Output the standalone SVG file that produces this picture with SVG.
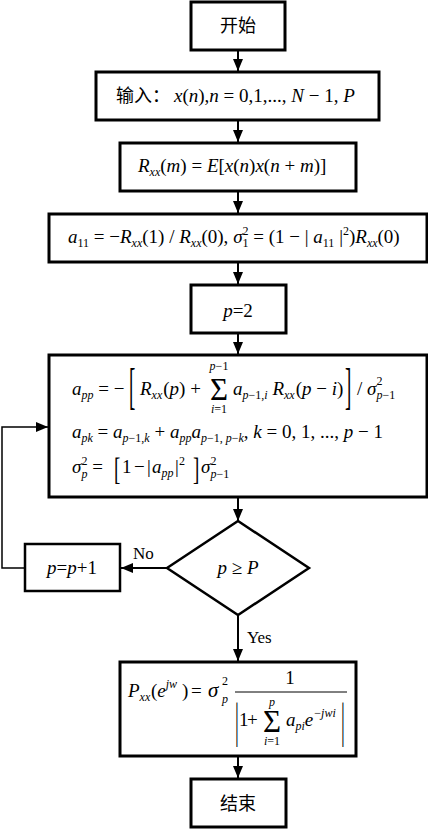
<svg xmlns="http://www.w3.org/2000/svg" width="428" height="829" viewBox="0 0 428 829">
<style>
.box{fill:#fff;stroke:#000;stroke-width:3}
.box2{fill:#fff;stroke:#000;stroke-width:2.5}
.conn{stroke:#000;stroke-width:2;fill:none}
.loop{stroke:#000;stroke-width:1.5;fill:none}
.cjk{font-family:"Noto Sans CJK SC",sans-serif;font-size:18px;fill:#000}
.m{font-family:"Liberation Serif",serif;font-size:19px;fill:#000}
.i{font-style:italic}
.s{font-size:12px}
.big{font-family:"Liberation Serif",serif;font-size:31px;fill:#000}
.lbl{font-family:"Liberation Serif",serif;font-size:17px;fill:#000}
</style>
<defs>
<marker id="ah" viewBox="0 0 12 10" refX="12" refY="5" markerWidth="12" markerHeight="10" markerUnits="userSpaceOnUse" orient="auto">
<path d="M0,0 L12,5 L0,10 z" fill="#000"/>
</marker>
</defs>
<g id="connectors">
<line class="conn" x1="238" y1="50" x2="238" y2="71" marker-end="url(#ah)"/>
<line class="conn" x1="238" y1="120" x2="238" y2="142" marker-end="url(#ah)"/>
<line class="conn" x1="238" y1="191" x2="238" y2="213" marker-end="url(#ah)"/>
<line class="conn" x1="238" y1="262" x2="238" y2="284" marker-end="url(#ah)"/>
<line class="conn" x1="238" y1="333" x2="238" y2="354" marker-end="url(#ah)"/>
<line class="conn" x1="238" y1="497" x2="238" y2="521" marker-end="url(#ah)"/>
<line class="conn" x1="167" y1="568" x2="121" y2="568" marker-end="url(#ah)"/>
<line class="conn" x1="238" y1="615" x2="238" y2="661" marker-end="url(#ah)"/>
<line class="conn" x1="238" y1="756" x2="238" y2="778" marker-end="url(#ah)"/>
<polyline class="loop" points="25,568 2,568 2,427 48,427" marker-end="url(#ah)"/>
<text class="lbl" x="133" y="559">No</text>
<text class="lbl" x="247" y="643">Yes</text>
</g>
<g id="start">
<rect class="box" x="191" y="2" width="94" height="48"/>
<text class="cjk" x="238" y="32" text-anchor="middle">开始</text>
</g>
<g id="input">
<rect class="box" x="96" y="72" width="283" height="48"/>
<text class="cjk" x="116" y="102">输入：</text>
<text class="m" x="174" y="102"><tspan class="i">x</tspan>(<tspan class="i">n</tspan>),<tspan class="i">n</tspan> = 0,1,..., <tspan class="i">N</tspan> − 1, <tspan class="i">P</tspan></text>
</g>
<g id="autocorr">
<rect class="box" x="120" y="143" width="236" height="48"/>
<text class="m" x="138" y="172"><tspan class="i">R</tspan><tspan class="s i" dy="4">xx</tspan><tspan dy="-4">(</tspan><tspan class="i">m</tspan>) = <tspan class="i">E</tspan>[<tspan class="i">x</tspan>(<tspan class="i">n</tspan>)<tspan class="i">x</tspan>(<tspan class="i">n</tspan> + <tspan class="i">m</tspan>)]</text>
</g>
<g id="init">
<rect class="box" x="49" y="214" width="378" height="48"/>
<text class="m" x="68" y="243"><tspan class="i">a</tspan><tspan class="s" dy="4">11</tspan><tspan dy="-4"> = −</tspan><tspan class="i">R</tspan><tspan class="s i" dy="4">xx</tspan><tspan dy="-4">(1) / </tspan><tspan class="i">R</tspan><tspan class="s i" dy="4">xx</tspan><tspan dy="-4">(0), </tspan><tspan class="i">σ</tspan><tspan class="s" dy="-8">2</tspan><tspan class="s" dx="-6" dy="12">1</tspan><tspan dy="-4"> = (1 − | </tspan><tspan class="i">a</tspan><tspan class="s" dy="4">11</tspan><tspan dy="-4"> |</tspan><tspan class="s" dy="-8">2</tspan><tspan dy="8">)</tspan><tspan class="i">R</tspan><tspan class="s i" dy="4">xx</tspan><tspan dy="-4">(0)</tspan></text>
</g>
<g id="p2">
<rect class="box" x="191" y="285" width="95" height="48"/>
<text class="m" x="238" y="317" text-anchor="middle"><tspan class="i">p</tspan>=2</text>
</g>
<g id="recursion">
<rect class="box" x="49" y="355" width="378" height="142"/>
<text class="m" x="72" y="395"><tspan class="i">a</tspan><tspan class="s i" dy="4">pp</tspan><tspan dy="-4"> = −</tspan></text>
<text class="m" transform="translate(129,403) scale(1,2.65)" font-size="24">[</text>
<text class="m" x="140" y="395"><tspan class="i">R</tspan><tspan class="s i" dy="4">xx</tspan><tspan dy="-4" dx="1">(</tspan><tspan class="i">p</tspan>) +</text>
<text class="big" x="210" y="400">Σ</text>
<text class="m s" x="219" y="370" text-anchor="middle"><tspan class="i">p</tspan>−1</text>
<text class="m s" x="219" y="413" text-anchor="middle"><tspan class="i">i</tspan>=1</text>
<text class="m" x="233" y="395"><tspan class="i">a</tspan><tspan class="s" dy="4"><tspan class="i">p</tspan>−1,<tspan class="i">i</tspan></tspan><tspan dy="-4"> </tspan><tspan class="i">R</tspan><tspan class="s i" dy="4">xx</tspan><tspan dy="-4" dx="1">(</tspan><tspan class="i">p</tspan> − <tspan class="i">i</tspan>)</text>
<text class="m" transform="translate(345,403) scale(1,2.65)" font-size="24">]</text>
<text class="m" x="357" y="395">/ <tspan class="i">σ</tspan><tspan class="s" dy="-10">2</tspan><tspan class="s" dx="-6" dy="14"><tspan class="i">p</tspan>−1</tspan></text>
<text class="m" x="72" y="438"><tspan class="i">a</tspan><tspan class="s i" dy="4">pk</tspan><tspan dy="-4"> = </tspan><tspan class="i">a</tspan><tspan class="s" dy="4"><tspan class="i">p</tspan>−1,<tspan class="i">k</tspan></tspan><tspan dy="-4"> + </tspan><tspan class="i">a</tspan><tspan class="s i" dy="4">pp</tspan><tspan class="i" dy="-4">a</tspan><tspan class="s" dy="4"><tspan class="i">p</tspan>−1, <tspan class="i">p</tspan>−<tspan class="i">k</tspan></tspan><tspan dy="-4">, </tspan><tspan class="i">k</tspan> = 0, 1, ..., <tspan class="i">p</tspan> − 1</text>
<text class="m" x="72" y="473"><tspan class="i">σ</tspan><tspan class="s" dy="-8">2</tspan><tspan class="s i" dx="-6" dy="13">p</tspan><tspan dy="-5"> =</tspan></text>
<text class="m" transform="translate(114,480) scale(1,1.65)" font-size="20">[</text>
<text class="m" x="122" y="473">1<tspan x="134">−</tspan><tspan x="147">|</tspan><tspan class="i" x="152">a</tspan><tspan class="s i" dy="4">pp</tspan><tspan dy="-4" x="175">|</tspan><tspan class="s" dy="-8" x="179">2</tspan></text>
<text class="m" transform="translate(193,480) scale(1,1.65)" font-size="20">]</text>
<text class="m" x="201" y="473"><tspan class="i">σ</tspan><tspan class="s" dy="-8">2</tspan><tspan class="s" dx="-6" dy="13"><tspan class="i">p</tspan>−1</tspan></text>
</g>
<g id="decision">
<polygon class="box2" points="167,568 238,521 309,568 238,615"/>
<text class="m" x="238" y="574" text-anchor="middle"><tspan class="i">p</tspan> ≥ <tspan class="i">P</tspan></text>
</g>
<g id="increment">
<rect class="box2" x="25" y="544" width="95" height="47"/>
<text class="m" x="72" y="574" text-anchor="middle"><tspan class="i">p</tspan>=<tspan class="i">p</tspan>+1</text>
</g>
<g id="psd">
<rect class="box" x="120" y="662" width="236" height="94"/>
<text class="m" x="128" y="697"><tspan class="i">P</tspan><tspan class="s i" dy="4">xx</tspan><tspan dy="-4" x="151">(</tspan><tspan class="i">e</tspan><tspan class="s i" dy="-9">jw</tspan><tspan dy="9" x="182">)</tspan><tspan x="191">=</tspan><tspan class="i" x="208" font-size="21">σ</tspan><tspan class="s" dy="-12" x="222">2</tspan><tspan class="s i" x="222" dy="18">p</tspan></text>
<line x1="235" y1="692" x2="347" y2="692" stroke="#000" stroke-width="1"/>
<text class="m" x="290" y="684" text-anchor="middle">1</text>
<text class="m" transform="translate(235,737) scale(1,2.6)" font-size="20">|</text>
<text class="m" transform="translate(341,737) scale(1,2.6)" font-size="20">|</text>
<text class="m" x="239" y="726">1<tspan x="247">+</tspan></text>
<text class="big" x="263" y="732">Σ</text>
<text class="m s" x="272" y="706" text-anchor="middle"><tspan class="i">p</tspan></text>
<text class="m s" x="272" y="745" text-anchor="middle"><tspan class="i">i</tspan>=1</text>
<text class="m" x="286" y="726"><tspan class="i">a</tspan><tspan class="s i" dy="4">pi</tspan><tspan class="i" dy="-4">e</tspan><tspan class="s" dy="-9" dx="1">−<tspan class="i">jwi</tspan></tspan></text>
</g>
<g id="end">
<rect class="box" x="191" y="779" width="95" height="48"/>
<text class="cjk" x="238" y="810" text-anchor="middle">结束</text>
</g>
</svg>
